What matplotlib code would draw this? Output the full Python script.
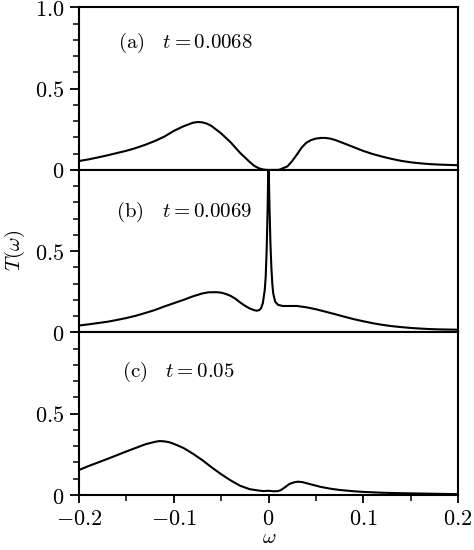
import numpy as np
import matplotlib.pyplot as plt
from matplotlib.ticker import MultipleLocator, FixedLocator, FixedFormatter

plt.rcParams['mathtext.fontset'] = 'cm'
plt.rcParams['font.family'] = 'serif'

# ---- data ----
w_a = [-0.2, -0.19, -0.18, -0.17, -0.16, -0.15, -0.14, -0.13, -0.12, -0.11, -0.1,
       -0.09, -0.08, -0.075, -0.07, -0.065, -0.06, -0.05, -0.04, -0.03, -0.02, -0.015,
       -0.01, -0.005, 0.0, 0.005, 0.01, 0.0116, 0.015, 0.02, 0.025, 0.03, 0.035, 0.04,
       0.045, 0.05, 0.055, 0.06, 0.065, 0.07, 0.08, 0.09, 0.1, 0.11, 0.12, 0.13, 0.14,
       0.15, 0.16, 0.17, 0.18, 0.19, 0.2]
T_a = [0.055, 0.065, 0.077, 0.09, 0.104, 0.118, 0.135, 0.155, 0.178, 0.205, 0.24,
       0.268, 0.29, 0.295, 0.293, 0.285, 0.27, 0.225, 0.17, 0.105, 0.05, 0.025,
       0.01, 0.002, 0.0, 0.0, 0.0, 0.002, 0.01, 0.022, 0.055, 0.095, 0.138, 0.168,
       0.184, 0.193, 0.197, 0.197, 0.193, 0.185, 0.163, 0.14, 0.117, 0.098, 0.082, 0.068, 0.056,
       0.047, 0.041, 0.036, 0.033, 0.031, 0.029]

w_b = [-0.2, -0.19, -0.18, -0.17, -0.16, -0.15, -0.14, -0.13, -0.12, -0.11, -0.1,
       -0.09, -0.08, -0.07, -0.0635, -0.055, -0.05, -0.045, -0.04, -0.035, -0.03, -0.025,
       -0.02, -0.015, -0.0125, -0.01, -0.008, -0.006, -0.004, -0.003, -0.002, -0.001,
       -0.0005, 0.0, 0.0005, 0.001, 0.002, 0.003, 0.004, 0.005, 0.007, 0.01, 0.015,
       0.02, 0.03, 0.04, 0.05, 0.06, 0.07, 0.08, 0.09, 0.1, 0.11, 0.12, 0.13, 0.14,
       0.15, 0.16, 0.17, 0.18, 0.19, 0.2]
T_b = [0.043, 0.05, 0.058, 0.066, 0.077, 0.089, 0.103, 0.12, 0.138, 0.16, 0.18,
       0.2, 0.222, 0.24, 0.247, 0.248, 0.245, 0.237, 0.225, 0.208, 0.185, 0.165,
       0.148, 0.137, 0.134, 0.137, 0.148, 0.18, 0.26, 0.34, 0.5, 0.75,
       0.92, 1.0, 0.92, 0.78, 0.55, 0.4, 0.3, 0.24, 0.19, 0.17, 0.163,
       0.163, 0.163, 0.155, 0.143, 0.128, 0.113, 0.097, 0.082, 0.069, 0.057, 0.047, 0.039, 0.033,
       0.028, 0.024, 0.021, 0.019, 0.018, 0.017]

w_c = [-0.2, -0.19, -0.18, -0.17, -0.16, -0.15, -0.14, -0.13, -0.12, -0.115, -0.11,
       -0.105, -0.1, -0.09, -0.08, -0.07, -0.06, -0.05, -0.04, -0.03, -0.02, -0.01,
       -0.005, 0.0, 0.005, 0.01, 0.013, 0.018, 0.022, 0.027, 0.031, 0.036, 0.045,
       0.055, 0.065, 0.075, 0.09, 0.1, 0.12, 0.14, 0.16, 0.18, 0.2]
T_c = [0.154, 0.178, 0.2, 0.222, 0.245, 0.268, 0.29, 0.312, 0.327, 0.332, 0.33,
       0.325, 0.315, 0.29, 0.255, 0.215, 0.17, 0.128, 0.09, 0.057, 0.036, 0.027,
       0.024, 0.026, 0.023, 0.024, 0.03, 0.05, 0.068, 0.078, 0.082, 0.079, 0.065,
       0.05, 0.039, 0.031, 0.023, 0.019, 0.014, 0.011, 0.009, 0.007, 0.005]

labels = [r'$\mathrm{(a)}\ \ \ t=0.0068$', r'$\mathrm{(b)}\ \ \ t=0.0069$', r'$\mathrm{(c)}\ \ \ t=0.05$']
label_pos = [(-0.159, 0.78), (-0.161, 0.74), (-0.155, 0.76)]

xticks = [-0.2, -0.1, 0.0, 0.1, 0.2]
xticklabels = [r'$-0.2$', r'$-0.1$', r'$0$', r'$0.1$', r'$0.2$']

fig = plt.figure(figsize=(4.74, 5.5), dpi=100)
left, width = 0.1667, 0.7996
bottom, h = 0.1, 0.2955
curves = [(w_a, T_a), (w_b, T_b), (w_c, T_c)]

for i, (w, T) in enumerate(curves):
    ax = fig.add_axes([left, bottom + (2 - i) * h, width, h])
    ax.plot(w, T, color='black', lw=1.5)
    ax.set_xlim(-0.2, 0.2)
    ax.set_ylim(0, 1.0)
    for s in ax.spines.values():
        s.set_linewidth(1.5)
    ax.xaxis.set_major_locator(FixedLocator(xticks))
    ax.xaxis.set_minor_locator(MultipleLocator(0.05))
    if i == 0:
        ax.yaxis.set_major_locator(FixedLocator([0, 0.5, 1.0]))
        ax.yaxis.set_major_formatter(FixedFormatter([r'$0$', r'$0.5$', r'$1.0$']))
    else:
        ax.yaxis.set_major_locator(FixedLocator([0, 0.5]))
        ax.yaxis.set_major_formatter(FixedFormatter([r'$0$', r'$0.5$']))
    ax.yaxis.set_minor_locator(MultipleLocator(0.1))
    ax.tick_params(axis='y', which='major', direction='out', length=6.5, width=1.3, labelsize=16, pad=4)
    ax.tick_params(axis='y', which='minor', direction='out', length=4, width=1.1)
    ax.tick_params(axis='x', which='major', direction='out', length=5.5, width=1.3, labelsize=16, pad=4)
    ax.tick_params(axis='x', which='minor', direction='out', length=4, width=1.1)
    if i == 2:
        ax.xaxis.set_major_formatter(FixedFormatter(xticklabels))
    else:
        ax.tick_params(axis='x', labelbottom=False)
    ax.text(label_pos[i][0], label_pos[i][1], labels[i], fontsize=15, va='center', ha='left')

fig.text(0.031, 0.545, r'$T(\omega)$', rotation=90, fontsize=15, ha='center', va='center')
fig.text(0.568, 0.005, r'$\omega$', fontsize=15, ha='center', va='bottom')

fig.savefig('out.png', dpi=100)
